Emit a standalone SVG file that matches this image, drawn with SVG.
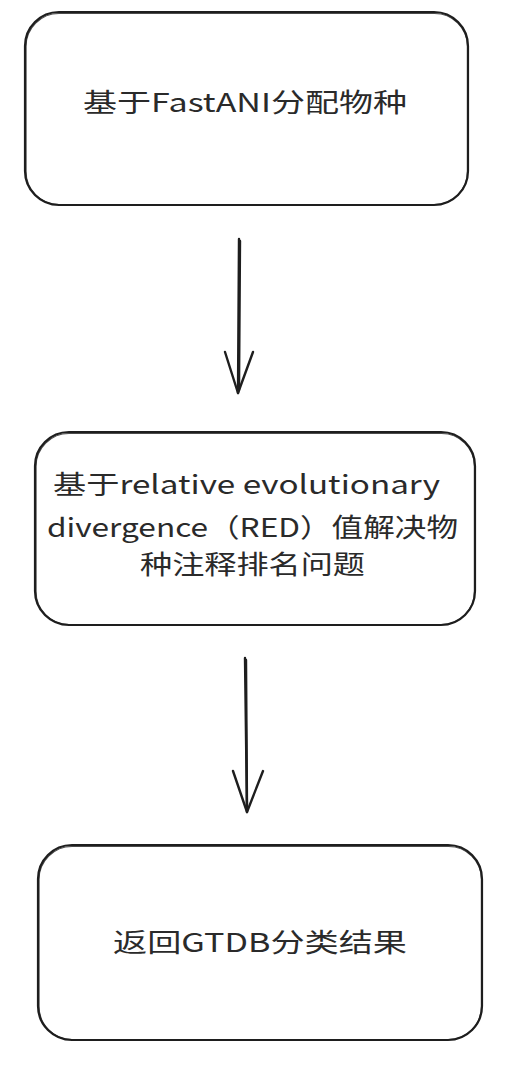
<svg xmlns="http://www.w3.org/2000/svg" width="510" height="1070" viewBox="0 0 510 1070">
<style>
.box{fill:#ffffff;stroke:#1e1e1e;stroke-width:2.2;}
.box2{fill:none;stroke:#1e1e1e;stroke-width:1.2;opacity:0.8;}
.lbl{font-family:"Noto Sans CJK SC","Liberation Sans",sans-serif;font-size:26px;fill:#2a2a2a;}
.conn{fill:none;stroke:#1e1e1e;stroke-width:2.4;stroke-linecap:round;stroke-linejoin:round;}
</style>
<rect width="510" height="1070" fill="#ffffff"/>
<g id="node1">
<rect class="box" x="25" y="12" width="443" height="193" rx="34"/>
<rect class="box2" x="26" y="13.5" width="441.5" height="191" rx="33"/>
<text class="lbl" x="83" y="112" textLength="324" lengthAdjust="spacingAndGlyphs">基于FastANI分配物种</text>
</g>
<g id="node2">
<rect class="box" x="35" y="432" width="440" height="193" rx="34"/>
<rect class="box2" x="36" y="433.5" width="438.5" height="191" rx="33"/>
<text class="lbl" x="53" y="494" textLength="387" lengthAdjust="spacingAndGlyphs">基于relative evolutionary</text>
<text class="lbl" x="47" y="537" textLength="411" lengthAdjust="spacingAndGlyphs">divergence（RED）值解决物</text>
<text class="lbl" x="140" y="574" textLength="225" lengthAdjust="spacingAndGlyphs">种注释排名问题</text>
</g>
<g id="node3">
<rect class="box" x="38" y="845" width="444" height="195" rx="34"/>
<rect class="box2" x="39" y="846.5" width="442.5" height="193" rx="33"/>
<text class="lbl" x="113" y="952" textLength="294" lengthAdjust="spacingAndGlyphs">返回GTDB分类结果</text>
</g>
<g id="connectors">
<path class="conn" d="M239 239 L238 393"/>
<path class="conn" d="M240 241 L239 390" stroke-width="1.2"/>
<path class="conn" d="M225 352 L238 393 L253 352"/>
<path class="conn" d="M245 658 L247 812"/>
<path class="conn" d="M246 660 L247 809" stroke-width="1.2"/>
<path class="conn" d="M233 771 L247 812 L263 771"/>
</g>
</svg>
